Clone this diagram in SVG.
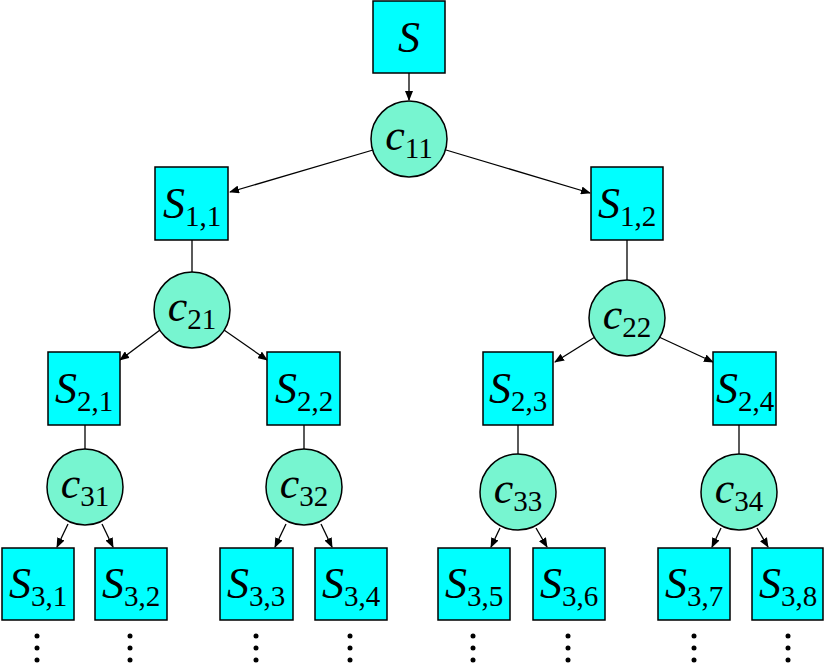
<svg xmlns="http://www.w3.org/2000/svg" width="825" height="663" viewBox="0 0 825 663">
<style>
.b{fill:#00ffff;stroke:#000;stroke-width:1.5}
.c{fill:#77f5d0;stroke:#000;stroke-width:1.5}
.t{font-family:"Liberation Serif",serif;font-size:44px;text-anchor:middle;fill:#000}
.i{font-style:italic}
.s{font-size:29px;font-style:normal}
.e{stroke:#000;stroke-width:1.3;fill:none}
.d{fill:#000}
</style>
<defs><marker id="a" markerWidth="10" markerHeight="8" refX="9" refY="4" orient="auto" markerUnits="userSpaceOnUse"><path d="M0,0L10,4L0,8z" fill="#000"/></marker></defs>
<g id="connectors">
<line class="e" x1="409" y1="73" x2="409" y2="100" marker-end="url(#a)"/>
<line class="e" x1="373" y1="150" x2="230" y2="192" marker-end="url(#a)"/>
<line class="e" x1="446" y1="150" x2="590" y2="193" marker-end="url(#a)"/>
<line class="e" x1="192" y1="240" x2="192" y2="272"/>
<line class="e" x1="627" y1="240" x2="627" y2="280"/>
<line class="e" x1="160" y1="330" x2="120" y2="360" marker-end="url(#a)"/>
<line class="e" x1="224" y1="330" x2="267" y2="360" marker-end="url(#a)"/>
<line class="e" x1="595" y1="337" x2="555" y2="362" marker-end="url(#a)"/>
<line class="e" x1="659" y1="337" x2="713" y2="362" marker-end="url(#a)"/>
<line class="e" x1="85" y1="425" x2="85" y2="449"/>
<line class="e" x1="304" y1="425" x2="304" y2="449"/>
<line class="e" x1="518" y1="425" x2="518" y2="454"/>
<line class="e" x1="739" y1="425" x2="739" y2="454"/>
<line class="e" x1="68" y1="524" x2="57" y2="547" marker-end="url(#a)"/>
<line class="e" x1="102" y1="524" x2="113" y2="547" marker-end="url(#a)"/>
<line class="e" x1="286" y1="524" x2="275" y2="547" marker-end="url(#a)"/>
<line class="e" x1="321" y1="524" x2="332" y2="547" marker-end="url(#a)"/>
<line class="e" x1="500" y1="528" x2="491" y2="547" marker-end="url(#a)"/>
<line class="e" x1="536" y1="528" x2="547" y2="547" marker-end="url(#a)"/>
<line class="e" x1="721" y1="528" x2="712" y2="547" marker-end="url(#a)"/>
<line class="e" x1="757" y1="528" x2="768" y2="547" marker-end="url(#a)"/>
</g>
<g id="S"><rect class="b" x="373" y="1" width="72" height="72"/><text class="t i" x="409" y="52">S</text></g>
<g id="c11"><circle class="c" cx="409" cy="139" r="38"/><text class="t" x="409" y="150"><tspan class="i">c</tspan><tspan class="s" dy="8">11</tspan></text></g>
<g id="S11"><rect class="b" x="155" y="167" width="73" height="73"/><text class="t" x="192" y="218"><tspan class="i">S</tspan><tspan class="s" dy="8">1,1</tspan></text></g>
<g id="S12"><rect class="b" x="591" y="167" width="72" height="73"/><text class="t" x="627" y="218"><tspan class="i">S</tspan><tspan class="s" dy="8">1,2</tspan></text></g>
<g id="c21"><circle class="c" cx="192" cy="310" r="38"/><text class="t" x="192" y="321"><tspan class="i">c</tspan><tspan class="s" dy="8">21</tspan></text></g>
<g id="c22"><circle class="c" cx="627" cy="318" r="38"/><text class="t" x="627" y="329"><tspan class="i">c</tspan><tspan class="s" dy="8">22</tspan></text></g>
<g id="S21"><rect class="b" x="48" y="352" width="72" height="73"/><text class="t" x="84" y="403"><tspan class="i">S</tspan><tspan class="s" dy="8">2,1</tspan></text></g>
<g id="S22"><rect class="b" x="267" y="352" width="73" height="73"/><text class="t" x="304" y="403"><tspan class="i">S</tspan><tspan class="s" dy="8">2,2</tspan></text></g>
<g id="S23"><rect class="b" x="483" y="352" width="70" height="73"/><text class="t" x="518" y="403"><tspan class="i">S</tspan><tspan class="s" dy="8">2,3</tspan></text></g>
<g id="S24"><rect class="b" x="713" y="352" width="63" height="73"/><text class="t" x="745" y="403"><tspan class="i">S</tspan><tspan class="s" dy="8">2,4</tspan></text></g>
<g id="c31"><circle class="c" cx="85" cy="487" r="38"/><text class="t" x="85" y="498"><tspan class="i">c</tspan><tspan class="s" dy="8">31</tspan></text></g>
<g id="c32"><circle class="c" cx="304" cy="487" r="38"/><text class="t" x="304" y="498"><tspan class="i">c</tspan><tspan class="s" dy="8">32</tspan></text></g>
<g id="c33"><circle class="c" cx="518" cy="492" r="38"/><text class="t" x="518" y="503"><tspan class="i">c</tspan><tspan class="s" dy="8">33</tspan></text></g>
<g id="c34"><circle class="c" cx="739" cy="492" r="38"/><text class="t" x="739" y="503"><tspan class="i">c</tspan><tspan class="s" dy="8">34</tspan></text></g>
<g id="S31"><rect class="b" x="2" y="548" width="72" height="72"/><text class="t" x="38" y="598"><tspan class="i">S</tspan><tspan class="s" dy="8">3,1</tspan></text></g>
<g id="S32"><rect class="b" x="95" y="548" width="72" height="72"/><text class="t" x="131" y="598"><tspan class="i">S</tspan><tspan class="s" dy="8">3,2</tspan></text></g>
<g id="S33"><rect class="b" x="220" y="548" width="73" height="72"/><text class="t" x="256" y="598"><tspan class="i">S</tspan><tspan class="s" dy="8">3,3</tspan></text></g>
<g id="S34"><rect class="b" x="315" y="548" width="72" height="72"/><text class="t" x="351" y="598"><tspan class="i">S</tspan><tspan class="s" dy="8">3,4</tspan></text></g>
<g id="S35"><rect class="b" x="438" y="548" width="72" height="72"/><text class="t" x="474" y="598"><tspan class="i">S</tspan><tspan class="s" dy="8">3,5</tspan></text></g>
<g id="S36"><rect class="b" x="533" y="548" width="72" height="72"/><text class="t" x="569" y="598"><tspan class="i">S</tspan><tspan class="s" dy="8">3,6</tspan></text></g>
<g id="S37"><rect class="b" x="658" y="548" width="72" height="72"/><text class="t" x="694" y="598"><tspan class="i">S</tspan><tspan class="s" dy="8">3,7</tspan></text></g>
<g id="S38"><rect class="b" x="752" y="548" width="71" height="72"/><text class="t" x="788" y="598"><tspan class="i">S</tspan><tspan class="s" dy="8">3,8</tspan></text></g>
<g id="dots">
<g transform="translate(37,0)"><circle class="d" cy="636" r="2.5"/><circle class="d" cy="648" r="2.5"/><circle class="d" cy="660" r="2.5"/></g>
<g transform="translate(130,0)"><circle class="d" cy="636" r="2.5"/><circle class="d" cy="648" r="2.5"/><circle class="d" cy="660" r="2.5"/></g>
<g transform="translate(256,0)"><circle class="d" cy="636" r="2.5"/><circle class="d" cy="648" r="2.5"/><circle class="d" cy="660" r="2.5"/></g>
<g transform="translate(350,0)"><circle class="d" cy="636" r="2.5"/><circle class="d" cy="648" r="2.5"/><circle class="d" cy="660" r="2.5"/></g>
<g transform="translate(473,0)"><circle class="d" cy="636" r="2.5"/><circle class="d" cy="648" r="2.5"/><circle class="d" cy="660" r="2.5"/></g>
<g transform="translate(568,0)"><circle class="d" cy="636" r="2.5"/><circle class="d" cy="648" r="2.5"/><circle class="d" cy="660" r="2.5"/></g>
<g transform="translate(694,0)"><circle class="d" cy="636" r="2.5"/><circle class="d" cy="648" r="2.5"/><circle class="d" cy="660" r="2.5"/></g>
<g transform="translate(788,0)"><circle class="d" cy="636" r="2.5"/><circle class="d" cy="648" r="2.5"/><circle class="d" cy="660" r="2.5"/></g>
</g>
</svg>
